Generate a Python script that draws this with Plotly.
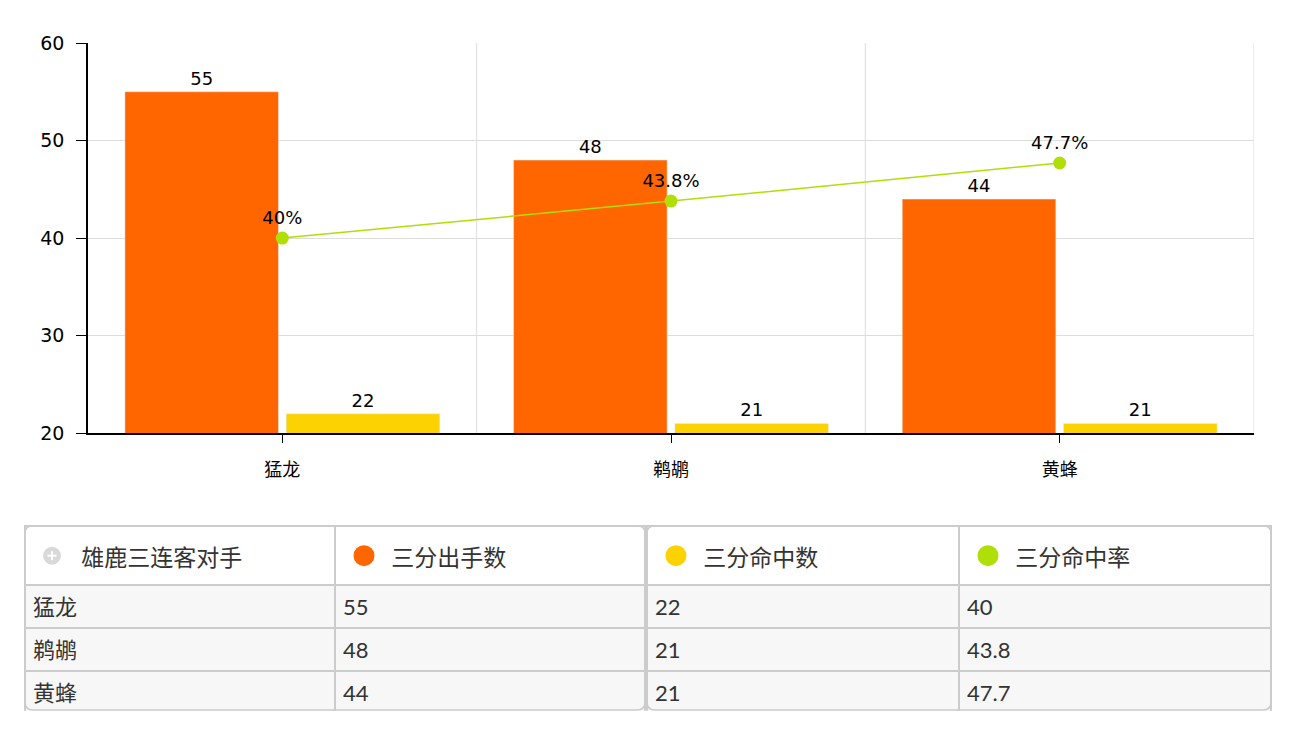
import plotly.graph_objects as go

# data
teams = ["猛龙", "鹈鹕", "黄蜂"]
attempts = [55, 48, 44]
makes = [22, 21, 21]
pct = [40, 43.8, 47.7]
headers = ["雄鹿三连客对手", "三分出手数", "三分命中数", "三分命中率"]

ORANGE = "#FF6600"
YELLOW = "#FCD202"
GREEN = "#B0DE09"
GRID = "#dddddd"
BORDER = "#cccccc"
chart_font = "DejaVu Sans, Noto Sans CJK SC, sans-serif"
table_font = "Lato, Noto Sans CJK SC, sans-serif"

# page has an 8px body margin, so the figure is a bit smaller than the window
W, H = 1294, 726
M = dict(l=17, r=31, t=35, b=20)
PW = W - M["l"] - M["r"]
PH = H - M["t"] - M["b"]


def px(x, y):
    """figure pixel -> paper coords"""
    return (x - M["l"]) / PW, (H - M["b"] - y) / PH


fig = go.Figure()

fig.add_trace(go.Bar(
    x=teams, y=attempts, name=headers[1], marker_color=ORANGE,
    text=attempts, textposition="outside", cliponaxis=False,
    textfont=dict(color="black", size=18, family=chart_font),
))
fig.add_trace(go.Bar(
    x=teams, y=makes, name=headers[2], marker_color=YELLOW,
    text=makes, textposition="outside", cliponaxis=False,
    textfont=dict(color="black", size=18, family=chart_font),
))
fig.add_trace(go.Scatter(
    x=teams, y=pct, name=headers[3], mode="lines+markers+text",
    line=dict(color=GREEN, width=1.5),
    marker=dict(color=GREEN, size=13),
    text=[f"{p}%" for p in pct], textposition="top center",
    textfont=dict(color="black", size=18, family=chart_font),
    cliponaxis=False,
))


def cell(v, size=22):
    # the <br> keeps plotly from wrapping on the space inside the tag
    return f'<span style="font-size:{size}px">{v}</span><br>'


def head(label):
    # a tall invisible nbsp pushes the label down to the middle of the header,
    # the ideographic spaces leave room for the coloured dot
    return ('<span style="font-size:32px">\u00a0</span>'
            '<span style="font-size:17px">\u3000</span>'
            f'<span style="font-size:23px">\u3000{label}</span><br>')


header_cells = [head(h) for h in headers]
columns = [[cell(v) for v in col] for col in [teams, attempts, makes, pct]]
table_top = 520  # figure px
boxes = [(17, 637), (639, 1263)]

for k, (bx0, bx1) in enumerate(boxes):
    x0, y0 = px(bx0, table_top)
    x1, _ = px(bx1, table_top)
    fig.add_trace(go.Table(
        domain=dict(x=[x0, x1], y=[0, y0]),
        columnwidth=[1, 1],
        header=dict(
            values=header_cells[2 * k:2 * k + 2], height=59, align="left",
            fill_color="white", line=dict(color=BORDER, width=1.5),
            font=dict(family=table_font, size=23, color="#333333"),
        ),
        cells=dict(
            values=columns[2 * k:2 * k + 2], height=42, align="left",
            fill_color="#f7f7f7", line=dict(color=BORDER, width=1.5),
            font=dict(family=table_font, size=22, color="#333333"),
        ),
    ))

shapes = []
# vertical grid lines on category boundaries
for i in range(len(teams)):
    shapes.append(dict(type="line", xref="x", yref="y domain",
                       x0=i + 0.5, x1=i + 0.5, y0=0, y1=1,
                       line=dict(color=GRID, width=1), layer="below"))

# coloured dots in the table header
dot_colors = ["#d9d9d9", ORANGE, YELLOW, GREEN]
col_starts = [boxes[0][0], (boxes[0][0] + boxes[0][1]) / 2,
              boxes[1][0], (boxes[1][0] + boxes[1][1]) / 2]
cy = table_top + 30
for j, (cs, c) in enumerate(zip(col_starts, dot_colors)):
    r = 9 if j == 0 else 10.5
    cx = cs + (27 if j == 0 else 29)
    a0, b0 = px(cx - r, cy + r)
    a1, b1 = px(cx + r, cy - r)
    shapes.append(dict(type="circle", xref="paper", yref="paper",
                       x0=a0, x1=a1, y0=b0, y1=b1,
                       fillcolor=c, line=dict(width=0), layer="above"))
# white plus on the grey dot
cx = col_starts[0] + 27
for (ax, ay, bx, by) in [(cx - 4.5, cy, cx + 4.5, cy), (cx, cy - 4.5, cx, cy + 4.5)]:
    a0, b0 = px(ax, ay)
    a1, b1 = px(bx, by)
    shapes.append(dict(type="line", xref="paper", yref="paper",
                       x0=a0, x1=a1, y0=b0, y1=b1,
                       line=dict(color="white", width=2), layer="above"))

# rounded outline round each half of the table
rad = 8
for bx0, bx1 in boxes:
    by0, by1 = table_top, table_top + 59 + 3 * 42
    (l, t), (rr, b) = px(bx0, by0), px(bx1, by1)
    rx = rad / PW
    ry = rad / PH
    path = (f"M {l + rx},{t} L {rr - rx},{t} Q {rr},{t} {rr},{t - ry} "
            f"L {rr},{b + ry} Q {rr},{b} {rr - rx},{b} "
            f"L {l + rx},{b} Q {l},{b} {l},{b + ry} "
            f"L {l},{t - ry} Q {l},{t} {l + rx},{t} Z")
    shapes.append(dict(type="path", xref="paper", yref="paper", path=path,
                       line=dict(color=BORDER, width=1.5), layer="above"))

xd0, _ = px(80, 0)
xd1, _ = px(1246, 0)
_, yd0 = px(0, 427)

fig.update_layout(
    width=W, height=H,
    margin=M,
    paper_bgcolor="white", plot_bgcolor="white",
    showlegend=False,
    barmode="group", bargap=0.17, bargroupgap=0.048,
    font=dict(family=chart_font, size=18, color="black"),
    shapes=shapes,
    xaxis=dict(
        domain=[xd0, xd1], range=[-0.5, len(teams) - 0.5],
        showline=True, linecolor="black", linewidth=1.5,
        ticks="outside", ticklen=8, tickcolor="black",
        showgrid=False, tickfont=dict(size=18),
        ticklabelstandoff=11,
    ),
    yaxis=dict(
        domain=[yd0, 1], range=[20, 60], dtick=10,
        showline=True, linecolor="black", linewidth=1.5,
        ticks="outside", ticklen=10, tickcolor="black",
        gridcolor=GRID, zeroline=False,
        tickfont=dict(size=19), ticklabelstandoff=8,
    ),
)

fig.write_html("out.html")
